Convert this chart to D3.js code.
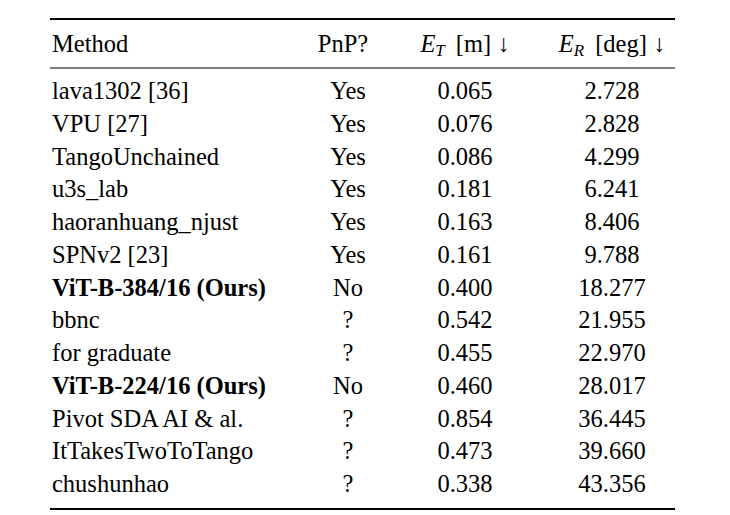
<!DOCTYPE html>
<html><head><meta charset="utf-8">
<script src="https://cdn.jsdelivr.net/npm/d3@7"></script>
<style>body{margin:0;background:#fff}</style>
</head><body>
<script>
const methods = ["lava1302 [36]","VPU [27]","TangoUnchained","u3s_lab","haoranhuang_njust","SPNv2 [23]","ViT-B-384/16 (Ours)","bbnc","for graduate","ViT-B-224/16 (Ours)","Pivot SDA AI & al.","ItTakesTwoToTango","chushunhao"]
const pnp = ["Yes","Yes","Yes","Yes","Yes","Yes","No","?","?","No","?","?","?"]
const eT = ["0.065","0.076","0.086","0.181","0.163","0.161","0.400","0.542","0.455","0.460","0.854","0.473","0.338"]
const eR = ["2.728","2.828","4.299","6.241","8.406","9.788","18.277","21.955","22.970","28.017","36.445","39.660","43.356"]
const bold = [6, 9]

const width = 730, height = 515
const svg = d3.select('body').append('svg').attr('width', width).attr('height', height)
  .style('font-family', '"Liberation Serif", "Times New Roman", serif').style('font-size', '24.5px')

const y = d3.scalePoint().domain(d3.range(methods.length)).range([92, 485])
const x0 = 50, x1 = 675

svg.append('line').attr('x1', x0).attr('x2', x1).attr('y1', 19).attr('y2', 19).attr('stroke', '#000').attr('stroke-width', 1.8)
svg.append('line').attr('x1', x0).attr('x2', x1).attr('y1', 68).attr('y2', 68).attr('stroke', '#000').attr('stroke-width', 1)
svg.append('line').attr('x1', x0).attr('x2', x1).attr('y1', 509).attr('y2', 509).attr('stroke', '#000').attr('stroke-width', 1.8)

const hy = 52
svg.append('text').attr('x', 52).attr('y', hy).text('Method')
svg.append('text').attr('x', 343).attr('y', hy).attr('text-anchor', 'middle').text('PnP?')
function hdr(cx, sub, unit) {
  const t = svg.append('text').attr('x', cx).attr('y', hy).attr('text-anchor', 'middle')
  t.append('tspan').attr('font-style', 'italic').text('E')
  t.append('tspan').attr('font-style', 'italic').attr('font-size', '17px').attr('dy', 4).text(sub)
  t.append('tspan').attr('dy', -4).text('\u2009 ' + unit + ' \u2193')
}
hdr(465, 'T', '[m]')
hdr(612, 'R', '[deg]')

const rows = svg.selectAll('g.row').data(methods).join('g').attr('class', 'row')
  .attr('transform', (d, i) => `translate(0,${y(i) + 7})`)
rows.append('text').attr('x', 52).text(d => d)
  .attr('font-weight', (d, i) => bold.includes(i) ? 'bold' : null)
rows.append('text').attr('x', 348).attr('text-anchor', 'middle').text((d, i) => pnp[i])
rows.append('text').attr('x', 465).attr('text-anchor', 'middle').text((d, i) => eT[i])
rows.append('text').attr('x', 612).attr('text-anchor', 'middle').text((d, i) => eR[i])
</script>
</body></html>
